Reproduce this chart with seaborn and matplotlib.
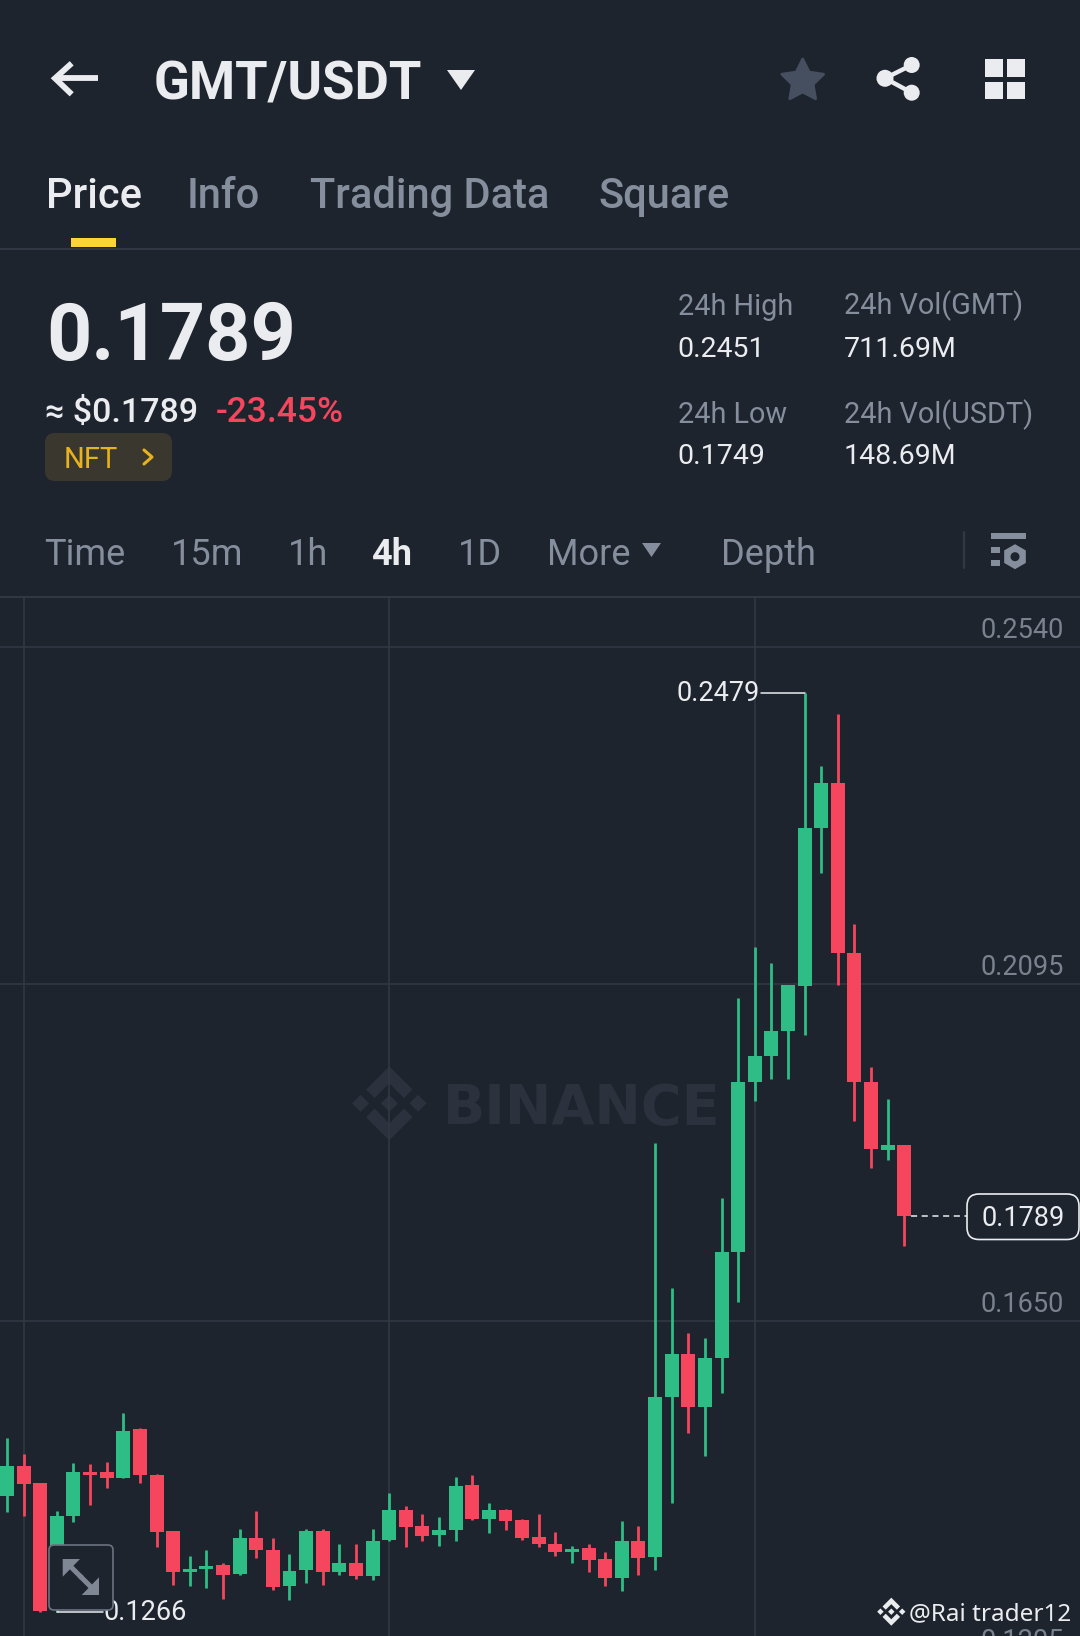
"""GMT/USDT 4h candlestick screen, redrawn with seaborn + matplotlib."""
import matplotlib
matplotlib.use("Agg")
import matplotlib.pyplot as plt
import numpy as np
import pandas as pd
import seaborn as sns
from matplotlib.patches import Circle, FancyBboxPatch, Polygon, RegularPolygon, Rectangle

BG = "#1E242E"
GRID = "#323945"
GREEN = "#2EBD85"
RED = "#F6465D"
GRAY = "#848E9C"
WHITE = "#EAECEF"
W, H = 1080, 1636

opens = [
    0.1419, 0.1459, 0.1436, 0.1268, 0.1393, 0.1451, 0.1451, 0.1443, 0.1507, 0.1447, 0.1372,
    0.1319, 0.1322, 0.1328, 0.1316, 0.1364, 0.1348, 0.1300, 0.1321, 0.1372, 0.1319, 0.1331,
    0.1313, 0.1361, 0.1401, 0.1379, 0.1367, 0.1374, 0.1433, 0.1389, 0.1400, 0.1387, 0.1365,
    0.1356, 0.1345, 0.1350, 0.1336, 0.1310, 0.1360, 0.1338, 0.1549, 0.1606, 0.1536, 0.1601,
    0.1741, 0.1965, 0.2000, 0.2033, 0.2092, 0.2301, 0.2361, 0.2136, 0.1966, 0.1876, 0.1882,
]
highs = [
    0.1496, 0.1474, 0.1436, 0.1399, 0.1462, 0.1461, 0.1464, 0.1528, 0.1509, 0.1448, 0.1373,
    0.1339, 0.1347, 0.1330, 0.1375, 0.1399, 0.1363, 0.1342, 0.1375, 0.1375, 0.1356, 0.1355,
    0.1375, 0.1423, 0.1406, 0.1395, 0.1391, 0.1444, 0.1446, 0.1410, 0.1402, 0.1389, 0.1395,
    0.1371, 0.1353, 0.1356, 0.1345, 0.1386, 0.1379, 0.1885, 0.1694, 0.1634, 0.1627, 0.1813,
    0.2077, 0.2144, 0.2123, 0.2094, 0.2479, 0.2383, 0.2451, 0.2174, 0.1985, 0.1943, 0.1883,
]
lows = [
    0.1398, 0.1393, 0.1266, 0.1266, 0.1384, 0.1407, 0.1430, 0.1442, 0.1436, 0.1351, 0.1301,
    0.1300, 0.1297, 0.1283, 0.1314, 0.1337, 0.1295, 0.1281, 0.1304, 0.1301, 0.1314, 0.1309,
    0.1308, 0.1360, 0.1352, 0.1360, 0.1353, 0.1359, 0.1387, 0.1370, 0.1374, 0.1361, 0.1352,
    0.1339, 0.1330, 0.1319, 0.1300, 0.1293, 0.1314, 0.1321, 0.1410, 0.1502, 0.1472, 0.1555,
    0.1675, 0.1941, 0.1969, 0.1969, 0.2028, 0.2242, 0.2093, 0.1914, 0.1852, 0.1863, 0.1749,
]
closes = [
    0.1458, 0.1435, 0.1267, 0.1393, 0.1450, 0.1447, 0.1442, 0.1505, 0.1446, 0.1371, 0.1319,
    0.1323, 0.1327, 0.1315, 0.1363, 0.1347, 0.1299, 0.1320, 0.1373, 0.1318, 0.1330, 0.1313,
    0.1360, 0.1400, 0.1378, 0.1366, 0.1374, 0.1432, 0.1388, 0.1400, 0.1386, 0.1364, 0.1356,
    0.1345, 0.1349, 0.1335, 0.1310, 0.1360, 0.1337, 0.1549, 0.1606, 0.1536, 0.1601, 0.1741,
    0.1965, 0.2000, 0.2033, 0.2093, 0.2301, 0.2361, 0.2136, 0.1966, 0.1877, 0.1882, 0.1789,
]
price_ticks = [0.2540, 0.2095, 0.1650, 0.1205]
time_grid = [1, 23, 45]

tabs = [("Price", 46, WHITE), ("Info", 187, GRAY), ("Trading Data", 310, GRAY), ("Square", 598, GRAY)]
stats = [
    ("24h High", "0.2451", 677.5, 314.6, 356.7),
    ("24h Vol(GMT)", "711.69M", 844, 314.6, 356.7),
    ("24h Low", "0.1749", 677.5, 423, 464),
    ("24h Vol(USDT)", "148.69M", 844, 423, 464),
]
intervals = [("Time", 44), ("15m", 171), ("1h", 288), ("4h", 371), ("1D", 458), ("More", 547), ("Depth", 721)]

sns.set_theme(style="dark")
plt.rcParams["font.family"] = ["Roboto", "DejaVu Sans"]


def full_axes(fig, zorder):
    """Transparent overlay measured in screen pixels, y pointing down."""
    a = fig.add_axes([0, 0, 1, 1], zorder=zorder)
    a.set_xlim(0, W); a.set_ylim(H, 0)
    a.axis("off")
    return a


def binance_logo(a, cx, cy, half, color, zorder=1):
    s = half / 63
    for sign in (-1, 1):
        chevron = [(0, -63), (39.5, -23.5), (25, -9), (0, -34), (-25, -9), (-39.5, -23.5)]
        pts = [(cx + x * s, cy + sign * y * s) for x, y in chevron]
        a.add_patch(Polygon(pts, color=color, lw=0, zorder=zorder))
    for dx in (-49, 0, 49):
        d = 14.5 * s
        mx = cx + dx * s
        a.add_patch(Polygon([(mx, cy - d), (mx + d, cy), (mx, cy + d), (mx - d, cy)], color=color, lw=0, zorder=zorder))


def draw_candles(ax):
    df = pd.DataFrame({"idx": np.arange(len(opens)), "open": opens, "high": highs, "low": lows, "close": closes})
    df["bottom"] = df[["open", "close"]].min(axis=1)
    df["body"] = (df["close"] - df["open"]).abs()
    up = df["close"] >= df["open"]
    for mask, color in ((up, GREEN), (~up, RED)):
        sub = df[mask].reset_index(drop=True)
        ax.vlines(sub["idx"], sub["low"], sub["high"], color=color, lw=2.0, zorder=3)
        sns.barplot(data=sub, x="idx", y="body", bottom=sub["bottom"].values, native_scale=True,
                    width=0.84, color=color, saturation=1, errorbar=None, linewidth=0, ax=ax, zorder=4)


def draw_chart(fig):
    ax = fig.add_axes([0, 0, 1, (H - 597) / H], zorder=1)
    ax.patch.set_alpha(0)
    draw_candles(ax)

    ax.set_xticks(time_grid)
    ax.set_yticks(price_ticks)
    ax.grid(True, color=GRID, lw=1.1)
    ax.set_axisbelow(True)
    ax.tick_params(length=0, labelbottom=False, labelleft=False)
    ax.set_xlabel(""); ax.set_ylabel("")
    for sp in ax.spines.values():
        sp.set_visible(False)
    ax.set_xlim(-7 / 16.617, (W - 7) / 16.617)
    ax.set_ylim(0.12340, 0.26060)

    for p in price_ticks:
        ax.annotate(f"{p:.4f}", xy=(1, p), xycoords=("axes fraction", "data"), xytext=(-16, 9),
                    textcoords="offset pixels", ha="right", va="baseline", color="#79828F",
                    fontsize=19.5, annotation_clip=False)

    # max / min markers
    i_hi = int(np.argmax(highs))
    ax.plot([i_hi - 2.65, i_hi], [highs[i_hi], highs[i_hi]], color=WHITE, lw=1.1, zorder=5)
    ax.annotate(f"{highs[i_hi]:.4f}", xy=(i_hi - 2.72, highs[i_hi]), xytext=(0, -8), textcoords="offset pixels",
                ha="right", va="baseline", color=WHITE, fontsize=19.5)
    i_lo = 3
    ax.plot([i_lo, i_lo + 2.78], [lows[i_lo], lows[i_lo]], color=WHITE, lw=1.1, zorder=5)
    ax.annotate(f"{lows[i_lo]:.4f}", xy=(i_lo + 2.78, lows[i_lo]), xytext=(0, -8), textcoords="offset pixels",
                ha="left", va="baseline", color=WHITE, fontsize=19.5)

    # last price dashes
    last = len(closes) - 1
    ax.plot([last + 0.42, last + 3.85], [closes[last], closes[last]], color=WHITE, lw=1.1, dashes=(4, 3), zorder=5)
    return ax


def draw_header(a):
    # back arrow
    a.plot([97.7, 55], [78.3, 78.3], color=WHITE, lw=4.2, solid_capstyle="butt")
    a.plot([71.7, 55, 71.7], [63.3, 78.3, 94.3], color=WHITE, lw=4.2, solid_joinstyle="miter", solid_capstyle="butt")
    a.text(154, 99.5, "GMT/USDT", color=WHITE, fontsize=38, fontweight="bold", va="baseline")
    a.add_patch(Polygon([(447, 70), (475, 70), (461, 90)], color=WHITE, lw=0))

    # star
    ang = np.deg2rad(np.arange(10) * 36 - 90)
    rad = np.where(np.arange(10) % 2 == 0, 22, 11)
    a.add_patch(Polygon(np.c_[802.7 + rad * np.cos(ang), 81 + rad * np.sin(ang)], facecolor="#454F60",
                        edgecolor="#454F60", lw=2, joinstyle="round"))
    # share
    a.plot([911.7, 885, 911.7], [65, 78.3, 92.7], color=WHITE, lw=3.2)
    for cx, cy, r in [(885, 78.3, 8.5), (911.7, 65, 8), (911.7, 92.7, 8)]:
        a.add_patch(Circle((cx, cy), r, color=WHITE, lw=0))
    # grid icon
    for x0 in (985, 1007.3):
        for y0 in (59, 81.7):
            a.add_patch(Rectangle((x0, y0), 17.7, 17.7, color=WHITE, lw=0))

    for label, x, color in tabs:
        a.text(x, 208, label, color=color, fontsize=30, fontweight="medium", va="baseline")
    a.add_patch(Rectangle((71, 238), 45, 9, color="#FCD535", lw=0))
    a.plot([0, W], [248.5, 248.5], color=GRID, lw=1.4)


def draw_summary(a):
    a.text(46, 360, "0.1789", color=WHITE, fontsize=57, fontweight="bold", va="baseline")
    a.text(45, 422, "≈ $0.1789", color=WHITE, fontsize=24.5, fontweight="medium", va="baseline")
    a.text(216, 422, "-23.45%", color=RED, fontsize=25.5, fontweight="medium", va="baseline")
    a.add_patch(FancyBboxPatch((45, 433), 127, 48, boxstyle="round,pad=0,rounding_size=10", facecolor="#3A382E", lw=0))
    a.text(64, 467.6, "NFT", color="#E8B21E", fontsize=21, va="baseline")
    a.plot([144, 152, 144], [450, 457, 464], color="#E8B21E", lw=2.2)

    for title, value, x, y_title, y_value in stats:
        a.text(x, y_title, title, color=GRAY, fontsize=20.8, va="baseline")
        a.text(x, y_value, value, color=WHITE, fontsize=20.5, va="baseline")


def draw_toolbar(a):
    for label, x in intervals:
        active = label == "4h"
        a.text(x, 565, label, color=WHITE if active else GRAY, fontsize=26,
               fontweight="bold" if active else "normal", va="baseline")
    a.add_patch(Polygon([(642, 543), (661, 543), (651.5, 557)], color=GRAY, lw=0))
    a.plot([964.3, 964.3], [532, 568], color=GRID, lw=1.6)
    # settings icon
    a.add_patch(Rectangle((990.7, 533.3), 35.3, 6, color=GRAY, lw=0))
    a.add_patch(Rectangle((990.7, 547.3), 9.5, 5.5, color=GRAY, lw=0))
    a.add_patch(Rectangle((990.7, 560), 9.5, 5.5, color=GRAY, lw=0))
    a.add_patch(RegularPolygon((1015, 556.7), 6, radius=12.5, color=GRAY, lw=0))
    a.add_patch(Circle((1015, 556.7), 4.5, color=BG, lw=0))
    a.plot([0, W], [597, 597], color=GRID, lw=1.4)


def draw_overlays(a):
    # last price tag
    a.add_patch(FancyBboxPatch((967, 1194), 112, 45.5, boxstyle="round,pad=0,rounding_size=12",
                               facecolor=BG, edgecolor=WHITE, lw=1.2))
    a.text(1023, 1226.5, f"{closes[-1]:.4f}", color=WHITE, fontsize=19.5, ha="center", va="baseline")

    # expand button
    a.add_patch(FancyBboxPatch((49, 1545), 64, 65, boxstyle="round,pad=0,rounding_size=5",
                               facecolor=BG, edgecolor="#6C7380", lw=1.2, zorder=6))
    c = "#7F8794"
    a.add_patch(Polygon([(62.7, 1559), (80, 1559), (62.7, 1576.7)], color=c, lw=0, zorder=7))
    a.add_patch(Polygon([(99, 1595), (81.7, 1595), (99, 1577.3)], color=c, lw=0, zorder=7))
    a.plot([68, 82], [1564, 1578], color=c, lw=3.6, zorder=7, solid_capstyle="butt")
    a.plot([94, 80], [1590, 1576], color=c, lw=3.6, zorder=7, solid_capstyle="butt")

    # signature
    binance_logo(a, 891.3, 1611.7, 14, WHITE)
    a.text(909, 1620, "@Rai trader12", color=WHITE, fontsize=17.5, family="Noto Sans", va="baseline")


def main():
    fig = plt.figure(figsize=(W / 100, H / 100), dpi=100, facecolor=BG)

    back = full_axes(fig, 0)
    binance_logo(back, 389.3, 1103.3, 37, "#2C323D")
    back.text(443, 1124, "BINANCE", color="#2C323D", fontsize=40, fontweight="bold",
              family="DejaVu Sans", va="baseline")

    draw_chart(fig)

    ui = full_axes(fig, 2)
    draw_header(ui)
    draw_summary(ui)
    draw_toolbar(ui)
    draw_overlays(ui)

    fig.savefig("out.png", dpi=100, facecolor=BG)
    plt.close(fig)


if __name__ == "__main__":
    main()
